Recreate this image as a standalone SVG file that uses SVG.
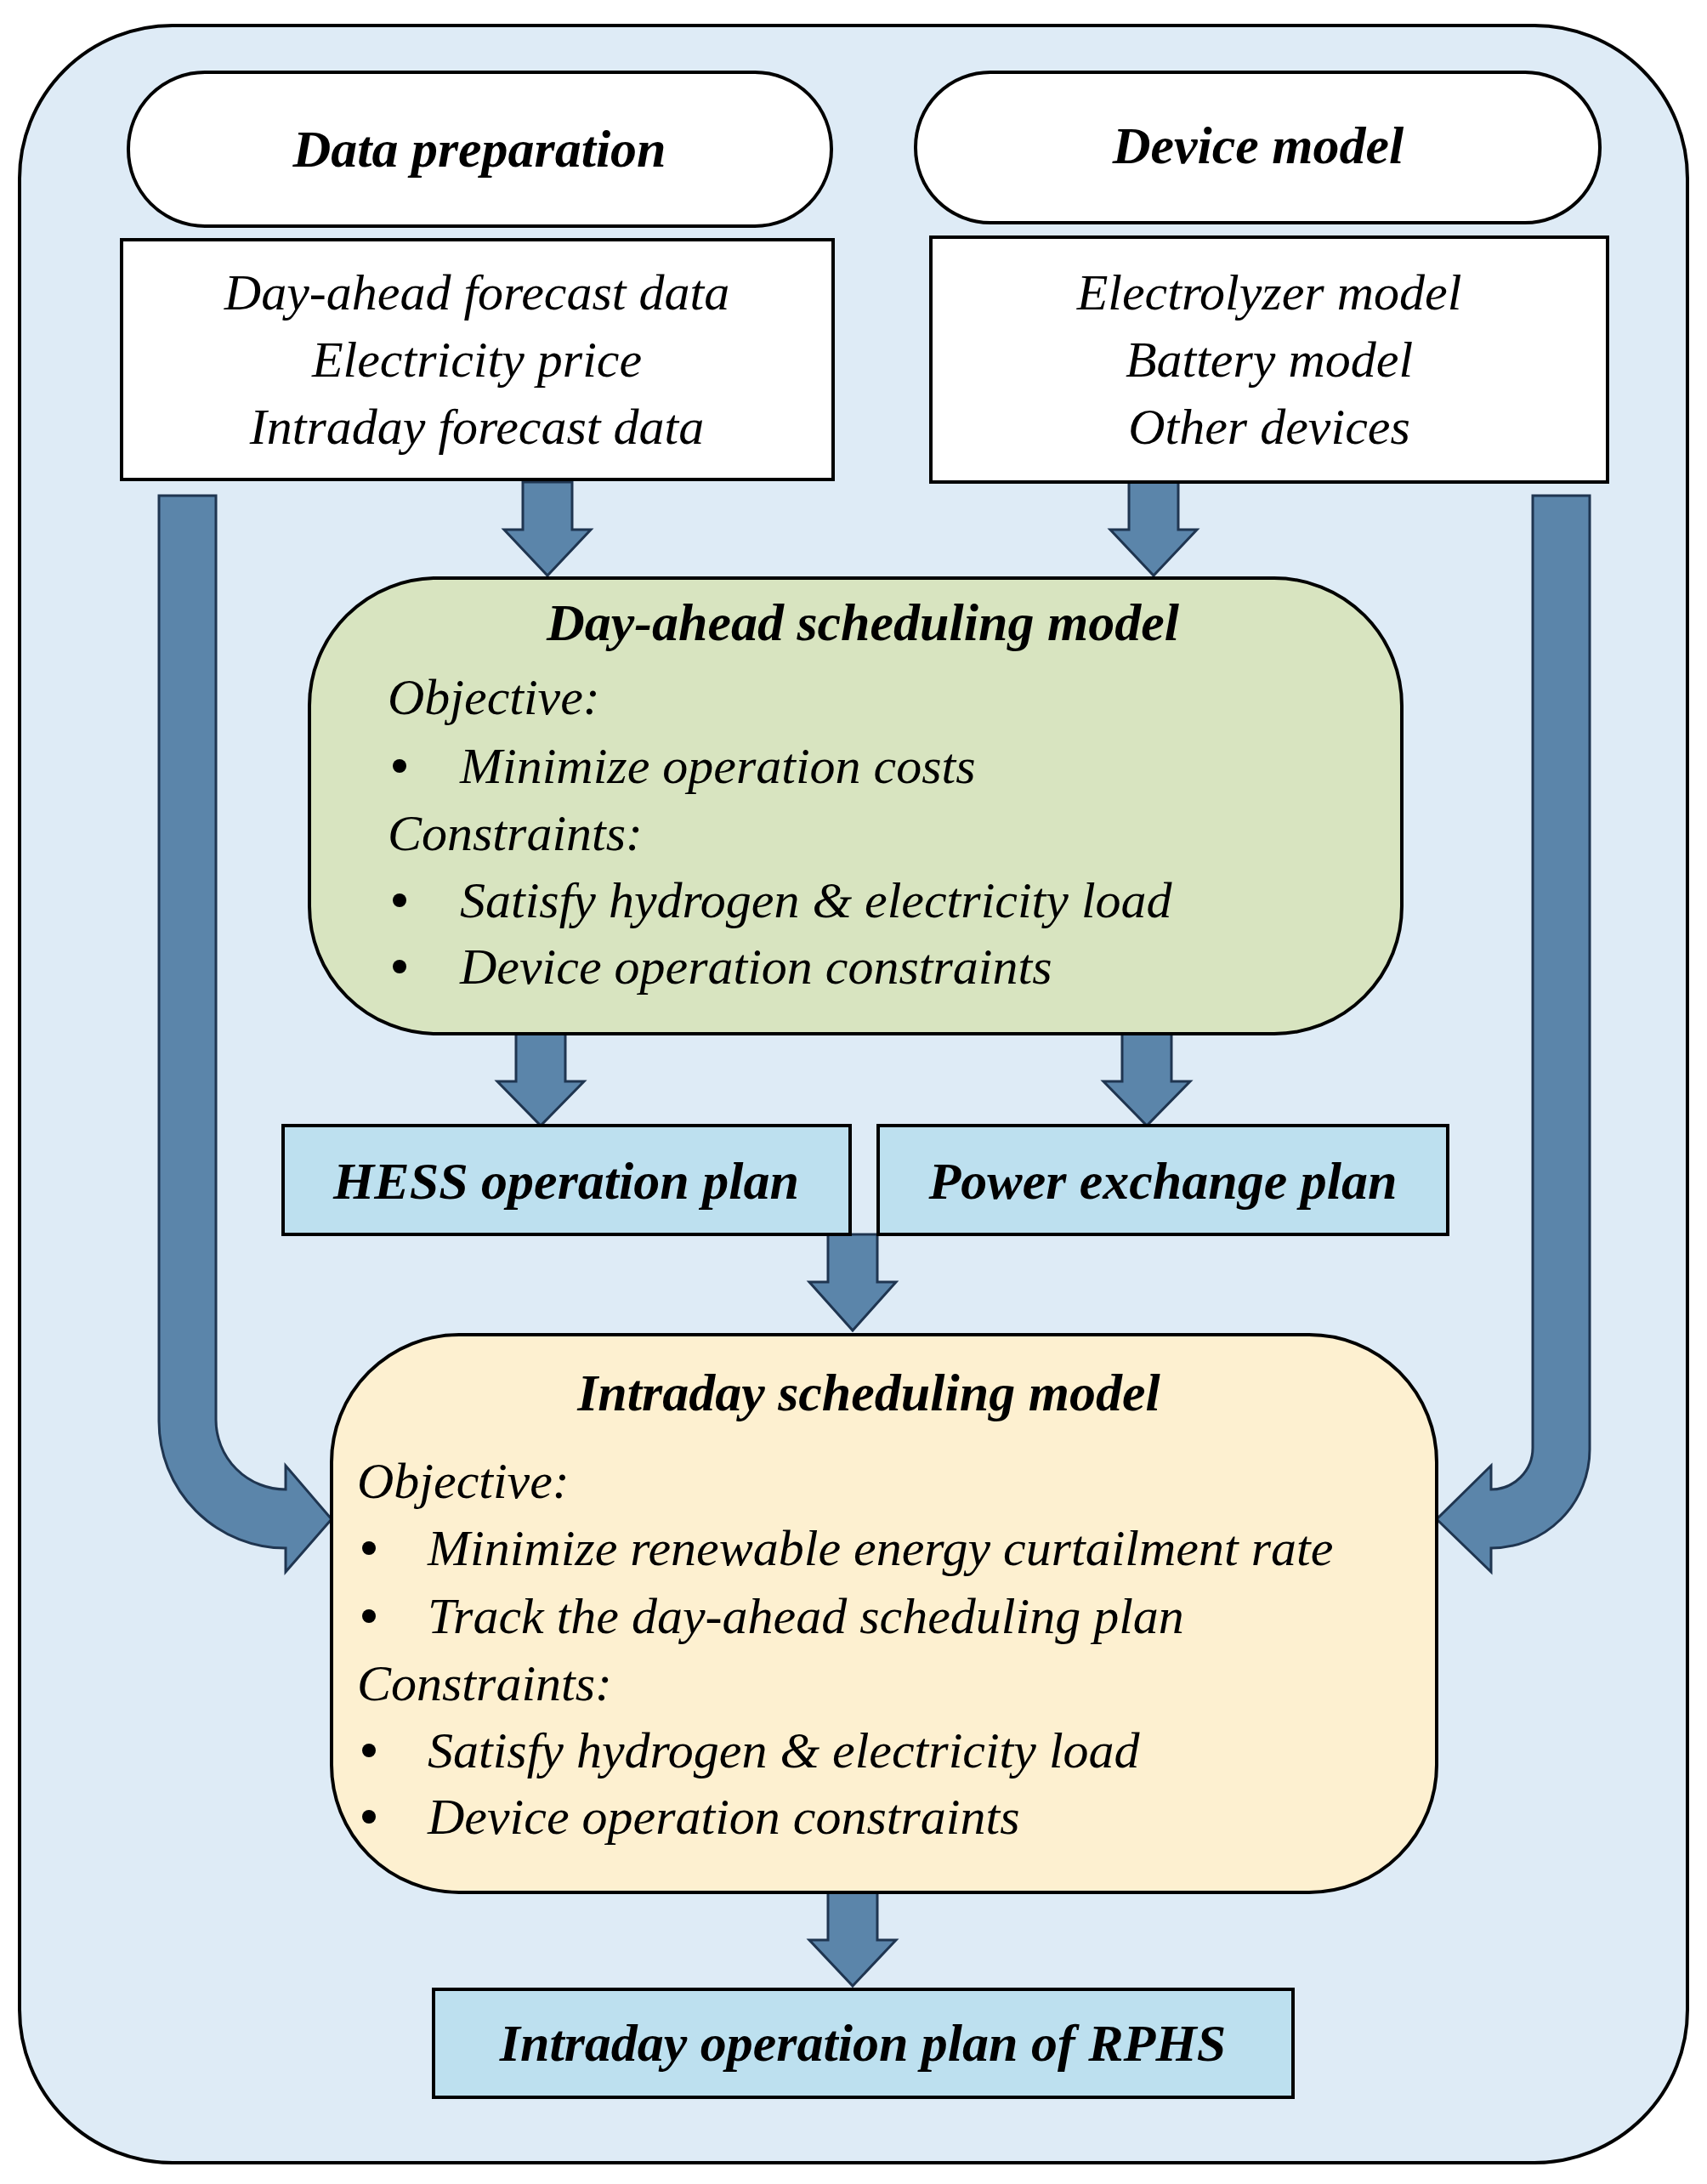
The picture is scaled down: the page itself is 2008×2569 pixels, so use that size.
<svg xmlns="http://www.w3.org/2000/svg" width="2008" height="2569" viewBox="0 0 2008 2569">
<style>
.b{stroke:#000;stroke-width:4}
.t{font-family:"Liberation Serif",serif;font-style:italic;font-size:60px;fill:#000}
.h{font-family:"Liberation Serif",serif;font-style:italic;font-weight:bold;font-size:62px;fill:#000}
.a{fill:#5b85aa;stroke:#1f3550;stroke-width:3}
</style>
<rect x="0" y="0" width="2008" height="2569" fill="#fff"/>
<g id="frame"><rect class="b" x="23" y="30" width="1962" height="2514" rx="180" fill="#deebf6"/></g>
<g id="connectors">
<path class="a" d="M615,567H673V623H695L644,677L593,623H615Z"/>
<path class="a" d="M1328,567H1386V623H1408L1357,677L1306,623H1328Z"/>
<path class="a" d="M607,1216H665V1272H687L636,1324L585,1272H607Z"/>
<path class="a" d="M1320,1216H1378V1272H1400L1349,1324L1298,1272H1320Z"/>
<path class="a" d="M974,1452H1032V1508H1054L1003,1565L952,1508H974Z"/>
<path class="a" d="M974,2226H1032V2282H1054L1003,2336L952,2282H974Z"/>
<path class="a" d="M187,583H254V1670A82 82 0 0 0 336 1752V1724L390,1787L336,1849V1821A149 149 0 0 1 187 1672Z"/>
<path class="a" d="M1803,583H1870V1705A116 116 0 0 1 1754 1821V1849L1690,1787L1754,1724V1752A49 49 0 0 0 1803 1703Z"/>
</g>
<g id="data-prep"><rect class="b" x="151" y="85" width="827" height="181" rx="90" fill="#fff"/><text class="h" x="564" y="196" text-anchor="middle">Data preparation</text></g>
<g id="device-model"><rect class="b" x="1077" y="85" width="805" height="177" rx="88" fill="#fff"/><text class="h" x="1480" y="192" text-anchor="middle">Device model</text></g>
<g id="data-box"><rect class="b" x="143" y="282" width="837" height="282" fill="#fff"/>
<text class="t" text-anchor="middle" x="561"><tspan x="561" y="364">Day-ahead forecast data</tspan><tspan x="561" y="443">Electricity price</tspan><tspan x="561" y="522">Intraday forecast data</tspan></text></g>
<g id="device-box"><rect class="b" x="1095" y="279" width="796" height="288" fill="#fff"/>
<text class="t" text-anchor="middle" x="1493"><tspan x="1493" y="364">Electrolyzer model</tspan><tspan x="1493" y="443">Battery model</tspan><tspan x="1493" y="522">Other devices</tspan></text></g>
<g id="day-ahead"><rect class="b" x="364" y="680" width="1285" height="536" rx="150" fill="#d8e4c0"/>
<text class="h" x="1015" y="753" text-anchor="middle">Day-ahead scheduling model</text>
<text class="t" x="456" y="840">Objective:</text>
<circle cx="470" cy="901" r="8"/><text class="t" x="541" y="921">Minimize operation costs</text>
<text class="t" x="456" y="1000">Constraints:</text>
<circle cx="470" cy="1059" r="8"/><text class="t" x="541" y="1079">Satisfy hydrogen &amp; electricity load</text>
<circle cx="470" cy="1137" r="8"/><text class="t" x="541" y="1157">Device operation constraints</text></g>
<g id="hess"><rect class="b" x="333" y="1324" width="667" height="128" fill="#bde0ef"/><text class="h" x="666" y="1410" text-anchor="middle">HESS operation plan</text></g>
<g id="power"><rect class="b" x="1033" y="1324" width="670" height="128" fill="#bde0ef"/><text class="h" x="1368" y="1410" text-anchor="middle">Power exchange plan</text></g>
<g id="intraday"><rect class="b" x="390" y="1570" width="1300" height="656" rx="150" fill="#fdf0d0"/>
<text class="h" x="1022" y="1659" text-anchor="middle">Intraday scheduling model</text>
<text class="t" x="420" y="1762">Objective:</text>
<circle cx="434" cy="1821" r="8"/><text class="t" x="503" y="1841">Minimize renewable energy curtailment rate</text>
<circle cx="434" cy="1901" r="8"/><text class="t" x="503" y="1921">Track the day-ahead scheduling plan</text>
<text class="t" x="420" y="2000">Constraints:</text>
<circle cx="434" cy="2059" r="8"/><text class="t" x="503" y="2079">Satisfy hydrogen &amp; electricity load</text>
<circle cx="434" cy="2137" r="8"/><text class="t" x="503" y="2157">Device operation constraints</text></g>
<g id="final"><rect class="b" x="510" y="2340" width="1011" height="127" fill="#bde0ef"/><text class="h" x="1015" y="2424" text-anchor="middle">Intraday operation plan of RPHS</text></g>
</svg>
